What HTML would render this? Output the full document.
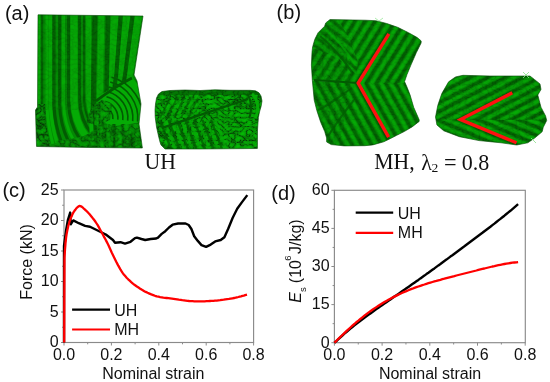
<!DOCTYPE html>
<html><head><meta charset="utf-8"><style>
html,body{margin:0;padding:0;background:#fff;width:550px;height:382px;overflow:hidden}
svg{display:block}
</style></head><body>
<svg width="550" height="382" viewBox="0 0 550 382">
<defs><clipPath id="cA1"><polygon points="38.0,14.8 143.0,16.0 134.0,75.0 137.0,81.0 141.0,104.0 139.0,124.0 142.4,148.0 90.0,147.5 36.5,146.5 35.5,110.0 37.5,107.0"/></clipPath>
<clipPath id="cA2"><polygon points="155.5,104.0 156.5,98.0 158.5,94.0 162.0,91.5 170.0,90.5 185.0,90.0 200.0,90.5 215.0,89.8 230.0,90.3 250.0,90.3 255.5,90.8 259.0,92.8 261.0,96.0 262.0,101.0 261.2,106.0 259.5,112.0 258.4,117.4 257.5,130.0 257.4,148.5 200.0,149.0 165.0,149.0 161.0,145.0 160.0,142.0 158.5,136.0 156.5,127.0 155.2,117.0 155.0,110.0"/></clipPath>
<clipPath id="cB1"><polygon points="330.0,19.6 365.0,20.2 375.9,20.7 386.8,23.5 397.7,27.3 408.6,32.7 417.3,37.6 421.2,40.9 421.1,43.1 416.4,52.6 410.9,65.1 407.0,74.5 404.6,81.6 407.0,87.1 410.1,95.0 413.7,107.3 419.2,119.8 419.2,121.4 412.1,126.9 404.2,131.6 396.4,135.5 390.1,138.7 383.8,141.8 372.8,144.9 365.0,145.7 344.3,145.9 331.2,144.6 326.6,141.9 326.6,138.0 324.7,131.5 320.7,122.3 316.8,110.5 314.2,100.0 312.3,80.0 311.4,65.0 312.0,52.0 312.6,46.9 314.8,39.3 318.1,32.7 324.6,26.2 325.7,22.9"/></clipPath>
<clipPath id="cB2"><polygon points="455.5,76.9 463.0,75.3 490.0,76.0 530.0,76.0 534.4,79.4 540.0,83.9 541.0,89.4 537.8,95.0 541.0,107.2 545.6,116.0 546.7,120.5 543.3,127.2 542.2,131.7 534.4,138.3 527.8,142.8 516.7,145.0 501.0,142.8 490.0,141.7 479.0,140.6 459.4,136.7 443.7,130.8 436.9,124.9 435.5,117.0 437.8,105.3 441.8,93.5 448.6,81.8"/></clipPath>
<filter id="crm" x="0" y="0" width="100%" height="100%" filterUnits="objectBoundingBox" color-interpolation-filters="sRGB">
<feTurbulence type="turbulence" baseFrequency="0.17" numOctaves="2" seed="7" result="n"/>
<feColorMatrix in="n" type="matrix" values="0 0 0 0 0.02  1 0 0 0 0  0 0 0 0 0.02  0 0 0 0 1" result="c0"/>
<feComponentTransfer in="c0" result="c"><feFuncG type="table" tableValues="0.2 0.4 0.53 0.61 0.66 0.7 0.72"/></feComponentTransfer>
<feComposite in="c" in2="SourceAlpha" operator="in"/>
</filter>
<filter id="crm2" x="0" y="0" width="100%" height="100%" filterUnits="objectBoundingBox" color-interpolation-filters="sRGB">
<feTurbulence type="turbulence" baseFrequency="0.15 0.2" numOctaves="2" seed="3" result="n"/>
<feColorMatrix in="n" type="matrix" values="0 0 0 0 0.02  1 0 0 0 0  0 0 0 0 0.02  0 0 0 0 1" result="c0"/>
<feComponentTransfer in="c0" result="c"><feFuncG type="table" tableValues="0.2 0.4 0.53 0.61 0.66 0.7 0.72"/></feComponentTransfer>
<feComposite in="c" in2="SourceAlpha" operator="in"/>
</filter>
<filter id="crm3" x="0" y="0" width="100%" height="100%" filterUnits="objectBoundingBox" color-interpolation-filters="sRGB">
<feTurbulence type="turbulence" baseFrequency="0.17" numOctaves="2" seed="11" result="n"/>
<feColorMatrix in="n" type="matrix" values="0 0 0 0 0.02  1 0 0 0 0  0 0 0 0 0.02  0 0 0 0 1" result="c0"/>
<feComponentTransfer in="c0" result="c"><feFuncG type="table" tableValues="0.2 0.4 0.53 0.61 0.66 0.7 0.72"/></feComponentTransfer>
<feComposite in="c" in2="SourceAlpha" operator="in"/>
</filter>
<filter id="crmA2" x="0" y="0" width="100%" height="100%" filterUnits="objectBoundingBox" color-interpolation-filters="sRGB">
<feTurbulence type="turbulence" baseFrequency="0.17 0.22" numOctaves="2" seed="5" result="n"/>
<feColorMatrix in="n" type="matrix" values="0 0 0 0 0.02  1 0 0 0 0  0 0 0 0 0.02  0 0 0 0 1" result="c0"/>
<feComponentTransfer in="c0" result="c"><feFuncG type="table" tableValues="0.22 0.48 0.61 0.68 0.72 0.75 0.77"/></feComponentTransfer>
<feComposite in="c" in2="SourceAlpha" operator="in"/>
</filter>
<filter id="soft" color-interpolation-filters="sRGB"><feGaussianBlur stdDeviation="0.45"/></filter>
<pattern id="stB1u" patternUnits="userSpaceOnUse" width="8.5" height="8.5" patternTransform="translate(385.3,33.9) rotate(32)"><rect width="8.5" height="8.5" fill="#038803"/><rect x="0" width="3.2" height="8.5" fill="#025a02"/><rect x="4.25" width="3.2" height="8.5" fill="#05ab05"/></pattern>
<pattern id="stB1l" patternUnits="userSpaceOnUse" width="8.5" height="8.5" patternTransform="translate(385,137.2) rotate(-29.3)"><rect width="8.5" height="8.5" fill="#038803"/><rect x="0" width="3.2" height="8.5" fill="#025a02"/><rect x="4.25" width="3.2" height="8.5" fill="#05ab05"/></pattern>
<pattern id="stB1f" patternUnits="userSpaceOnUse" width="7.5" height="7.5" patternTransform="translate(330,40) rotate(-52)"><rect width="7.5" height="7.5" fill="#038803"/><rect x="0" width="2.5" height="7.5" fill="#025a02"/><rect x="3.50" width="3" height="7.5" fill="#05ab05"/></pattern>
<pattern id="stB2u" patternUnits="userSpaceOnUse" width="8" height="8" patternTransform="translate(512.5,90) rotate(62.7)"><rect width="8" height="8" fill="#038803"/><rect x="0" width="3" height="8" fill="#025a02"/><rect x="4.00" width="3" height="8" fill="#05ab05"/></pattern>
<pattern id="stB2l" patternUnits="userSpaceOnUse" width="8" height="8" patternTransform="translate(516,146) rotate(-67.2)"><rect width="8" height="8" fill="#038803"/><rect x="0" width="3" height="8" fill="#025a02"/><rect x="4.00" width="3" height="8" fill="#05ab05"/></pattern></defs>
<rect width="550" height="382" fill="#fff"/>
<g clip-path="url(#cA1)"><g filter="url(#soft)"><rect x="30" y="10" width="120" height="140" fill="#038803"/><path d="M39,12 L39,108.0 C39.5,122.0 42.2,138.0 43.0,146.0" stroke="#05ab05" stroke-width="3.5" fill="none"/><path d="M47,12 L47,106.4 C47.5,120.4 50.7,135.8 52.8,143.8" stroke="#05ab05" stroke-width="3" fill="none"/><path d="M50.5,12 L50.5,105.7 C51.0,119.7 54.5,134.8 57.0,142.8" stroke="#05ab05" stroke-width="3.5" fill="none"/><path d="M63.5,12 L63.5,103.1 C64.0,117.1 68.3,131.1 72.9,139.1" stroke="#05ab05" stroke-width="3" fill="none"/><path d="M74,12 L74,101.0 C74.5,115.0 79.5,128.2 85.7,136.2" stroke="#05ab05" stroke-width="7" fill="none"/><path d="M88.5,12 L88.5,98.1 C89.0,112.1 95.0,124.1 103.4,132.1" stroke="#05ab05" stroke-width="5" fill="none"/><path d="M101.5,12 L100.0,90 L99.5,130" stroke="#05ab05" stroke-width="6" fill="none"/><path d="M115,12 L111.4,76.6 L108.2,103.0" stroke="#05ab05" stroke-width="7" fill="none"/><path d="M127,12 L121.1,71.2 L117.1,99.2" stroke="#05ab05" stroke-width="7" fill="none"/><path d="M139,12 L130.8,65.8 L126.0,95.3" stroke="#05ab05" stroke-width="7" fill="none"/><path d="M42,12 L42,107.4 C42.5,121.4 45.4,137.2 46.7,145.2" stroke="#025a02" stroke-width="2.5" fill="none"/><path d="M54,12 L54,105.0 C54.5,119.0 58.2,133.8 61.3,141.8" stroke="#025a02" stroke-width="3.2" fill="none"/><path d="M59.5,12 L59.5,103.9 C60.0,117.9 64.1,132.3 68.0,140.3" stroke="#025a02" stroke-width="3" fill="none"/><path d="M68.5,12 L68.5,102.1 C69.0,116.1 73.6,129.7 79.0,137.7" stroke="#025a02" stroke-width="3" fill="none"/><path d="M79.5,12 L79.5,99.9 C80.0,113.9 85.4,126.7 92.4,134.7" stroke="#025a02" stroke-width="3" fill="none"/><path d="M84,12 L84,99.0 C84.5,113.0 90.2,125.4 97.9,133.4" stroke="#025a02" stroke-width="2" fill="none"/><path d="M95,12 L93.5,90 L93,130" stroke="#025a02" stroke-width="5" fill="none"/><path d="M108,12 L106.5,90 L106,130" stroke="#025a02" stroke-width="4.5" fill="none"/><path d="M121,12 L116.3,73.9 L112.7,101.1" stroke="#025a02" stroke-width="4" fill="none"/><path d="M133,12 L125.9,68.5 L121.6,97.2" stroke="#025a02" stroke-width="4" fill="none"/><rect x="30" y="10" width="120" height="100" filter="url(#crm2)" opacity="0.18"/><path d="M91,110 L92,150" stroke="#05ab05" stroke-width="4"/><path d="M95,110 L96,150" stroke="#025a02" stroke-width="3"/><path d="M99.5,110 L100.5,150" stroke="#05ab05" stroke-width="5"/><path d="M104,110 L105,150" stroke="#025a02" stroke-width="2.5"/><path d="M109,110 L110,150" stroke="#05ab05" stroke-width="5"/><path d="M113.5,110 L114.5,150" stroke="#025a02" stroke-width="2.5"/><path d="M118,110 L119,150" stroke="#05ab05" stroke-width="4.5"/><path d="M122.5,110 L123.5,150" stroke="#025a02" stroke-width="2.5"/><path d="M127,110 L128,150" stroke="#05ab05" stroke-width="4"/><path d="M131.5,110 L132.5,150" stroke="#025a02" stroke-width="2.5"/><path d="M136,110 L137,150" stroke="#05ab05" stroke-width="4"/><path d="M102,94 L132,77 L142,90 L143,124 L104,124 Z" fill="#05ab05"/><path d="M111.5,77.3 A42,42 0 0 1 142.6,122.2" stroke="#025a02" stroke-width="1.6" fill="none"/><path d="M110.2,82.1 A37,37 0 0 1 137.6,121.7" stroke="#025a02" stroke-width="1.6" fill="none"/><path d="M109.0,87.0 A32,32 0 0 1 132.7,121.2" stroke="#025a02" stroke-width="1.6" fill="none"/><path d="M107.8,91.8 A27,27 0 0 1 127.7,120.7" stroke="#025a02" stroke-width="1.6" fill="none"/><path d="M106.5,96.7 A22,22 0 0 1 122.8,120.2" stroke="#025a02" stroke-width="1.6" fill="none"/><path d="M105.2,101.5 A17,17 0 0 1 117.8,119.7" stroke="#025a02" stroke-width="1.6" fill="none"/><path d="M104.0,106.4 A12,12 0 0 1 112.9,119.2" stroke="#025a02" stroke-width="1.6" fill="none"/><path d="M96,101 C108,92 120,84 132,78" stroke="#025a02" stroke-width="2.8" fill="none"/><polygon points="30,104 45,104 46,124 49,138 53,152 30,152" filter="url(#crm)"/><polygon points="53,152 56,141 70,139 84,136 94,130 100,122 116,126 130,124 145,121 145,152" filter="url(#crm)" opacity="0.7"/><polygon points="86,122 92,106 102,100 112,104 110,120 98,126" filter="url(#crm3)" opacity="0.8"/></g></g>
<g clip-path="url(#cA2)"><g filter="url(#soft)"><rect x="150" y="85" width="115" height="68" filter="url(#crmA2)"/><path d="M160.0,120 L171.0,149" stroke="#025a02" stroke-width="2.3" opacity="0.75"/><path d="M164.2,120 L175.2,149" stroke="#05ab05" stroke-width="2.5" opacity="0.75"/><path d="M168.5,120 L179.5,149" stroke="#025a02" stroke-width="2.3" opacity="0.75"/><path d="M172.7,120 L183.7,149" stroke="#05ab05" stroke-width="2.5" opacity="0.75"/><path d="M177.0,120 L188.0,149" stroke="#025a02" stroke-width="2.3" opacity="0.75"/><path d="M181.2,120 L192.2,149" stroke="#05ab05" stroke-width="2.5" opacity="0.75"/><path d="M185.5,120 L196.5,149" stroke="#025a02" stroke-width="2.3" opacity="0.75"/><path d="M189.7,120 L200.7,149" stroke="#05ab05" stroke-width="2.5" opacity="0.75"/><path d="M194.0,120 L205.0,149" stroke="#025a02" stroke-width="2.3" opacity="0.75"/><path d="M198.2,120 L209.2,149" stroke="#05ab05" stroke-width="2.5" opacity="0.75"/><path d="M202.5,120 L213.5,149" stroke="#025a02" stroke-width="2.3" opacity="0.75"/><path d="M206.7,120 L217.7,149" stroke="#05ab05" stroke-width="2.5" opacity="0.75"/><path d="M211.0,120 L222.0,149" stroke="#025a02" stroke-width="2.3" opacity="0.75"/><path d="M215.2,120 L226.2,149" stroke="#05ab05" stroke-width="2.5" opacity="0.75"/><path d="M160,118 L170,98" stroke="#025a02" stroke-width="1.8" opacity="0.6"/><path d="M163.5,118 L173.5,98" stroke="#05ab05" stroke-width="2" opacity="0.6"/><path d="M167,118 L177,98" stroke="#025a02" stroke-width="1.8" opacity="0.6"/><path d="M170.5,118 L180.5,98" stroke="#05ab05" stroke-width="2" opacity="0.6"/><path d="M174,118 L184,98" stroke="#025a02" stroke-width="1.8" opacity="0.6"/><path d="M177.5,118 L187.5,98" stroke="#05ab05" stroke-width="2" opacity="0.6"/><path d="M181,118 L191,98" stroke="#025a02" stroke-width="1.8" opacity="0.6"/><path d="M184.5,118 L194.5,98" stroke="#05ab05" stroke-width="2" opacity="0.6"/><path d="M188,118 L198,98" stroke="#025a02" stroke-width="1.8" opacity="0.6"/><path d="M191.5,118 L201.5,98" stroke="#05ab05" stroke-width="2" opacity="0.6"/><path d="M162,128 C190,118 215,110 248,99" stroke="#025a02" stroke-width="2.2" fill="none"/><path d="M155,92.5 L262,92.5" stroke="#035a03" stroke-width="5" opacity="0.6"/><path d="M252,94 C259,100 259,112 255,118" stroke="#05ab05" stroke-width="3" fill="none"/><path d="M247,94 C252,100 252,112 249,118" stroke="#025a02" stroke-width="2" fill="none"/></g></g>
<g clip-path="url(#cB1)"><g filter="url(#soft)"><polygon points="300,10 430,10 430,83 358.2,83 300,80" fill="url(#stB1u)"/><polygon points="300,80 358.2,83 430,83 430,150 300,150" fill="url(#stB1l)"/><polygon points="308,16 336,16 348,36 358,62 356,74 338,58 318,50 308,46" fill="url(#stB1f)" opacity="0.8"/><rect x="300" y="10" width="130" height="140" filter="url(#crm2)" opacity="0.2"/><polygon points="305,15 335,15 350,60 348,100 338,150 305,150" filter="url(#crm3)" opacity="0.25"/><path d="M314,80 L358,83" stroke="#025a02" stroke-width="2" fill="none"/><path d="M320,36 C330,44 340,55 352,72" stroke="#025a02" stroke-width="2.2" fill="none" opacity="0.8"/><path d="M326,30 C336,38 346,50 356,66" stroke="#05ab05" stroke-width="2" fill="none" opacity="0.6"/><path d="M318,110 C328,106 340,96 352,88" stroke="#025a02" stroke-width="2" fill="none" opacity="0.7"/><path d="M328,136 C336,124 344,112 354,100" stroke="#025a02" stroke-width="2" fill="none" opacity="0.7"/></g></g>
<g clip-path="url(#cB2)"><g filter="url(#soft)"><rect x="430" y="70" width="120" height="80" fill="url(#stB2u)"/><polygon points="430,119.7 550,119.7 550,150 430,150" fill="url(#stB2l)"/><rect x="430" y="70" width="120" height="80" filter="url(#crm2)" opacity="0.3"/></g></g>
<polygon points="38.0,14.8 143.0,16.0 134.0,75.0 137.0,81.0 141.0,104.0 139.0,124.0 142.4,148.0 90.0,147.5 36.5,146.5 35.5,110.0 37.5,107.0" fill="none" stroke="#024602" stroke-width="1" opacity="0.6" filter="url(#soft)"/>
<polygon points="155.5,104.0 156.5,98.0 158.5,94.0 162.0,91.5 170.0,90.5 185.0,90.0 200.0,90.5 215.0,89.8 230.0,90.3 250.0,90.3 255.5,90.8 259.0,92.8 261.0,96.0 262.0,101.0 261.2,106.0 259.5,112.0 258.4,117.4 257.5,130.0 257.4,148.5 200.0,149.0 165.0,149.0 161.0,145.0 160.0,142.0 158.5,136.0 156.5,127.0 155.2,117.0 155.0,110.0" fill="none" stroke="#024602" stroke-width="1" opacity="0.6" filter="url(#soft)"/>
<polygon points="330.0,19.6 365.0,20.2 375.9,20.7 386.8,23.5 397.7,27.3 408.6,32.7 417.3,37.6 421.2,40.9 421.1,43.1 416.4,52.6 410.9,65.1 407.0,74.5 404.6,81.6 407.0,87.1 410.1,95.0 413.7,107.3 419.2,119.8 419.2,121.4 412.1,126.9 404.2,131.6 396.4,135.5 390.1,138.7 383.8,141.8 372.8,144.9 365.0,145.7 344.3,145.9 331.2,144.6 326.6,141.9 326.6,138.0 324.7,131.5 320.7,122.3 316.8,110.5 314.2,100.0 312.3,80.0 311.4,65.0 312.0,52.0 312.6,46.9 314.8,39.3 318.1,32.7 324.6,26.2 325.7,22.9" fill="none" stroke="#024602" stroke-width="1" opacity="0.6" filter="url(#soft)"/>
<polygon points="455.5,76.9 463.0,75.3 490.0,76.0 530.0,76.0 534.4,79.4 540.0,83.9 541.0,89.4 537.8,95.0 541.0,107.2 545.6,116.0 546.7,120.5 543.3,127.2 542.2,131.7 534.4,138.3 527.8,142.8 516.7,145.0 501.0,142.8 490.0,141.7 479.0,140.6 459.4,136.7 443.7,130.8 436.9,124.9 435.5,117.0 437.8,105.3 441.8,93.5 448.6,81.8" fill="none" stroke="#024602" stroke-width="1" opacity="0.6" filter="url(#soft)"/>
<polyline points="388.9,33.9 358.2,83 388.6,137.2" fill="none" stroke="#ff1010" stroke-width="3.4"/>
<polyline points="512.3,92.8 460.5,119.5 516.5,142.8" fill="none" stroke="#ff1010" stroke-width="3.4"/>
<path d="M523,72 L529,78 M529,72 L523,78" stroke="#8ae08a" stroke-width="0.8"/>
<path d="M531,138 L536,143" stroke="#8ae08a" stroke-width="0.8"/>
<path d="M375,18 L379,21 L383,18" stroke="#9be89b" stroke-width="0.8" fill="none"/>
<rect x="64" y="190" width="189.6" height="152.5" fill="none" stroke="#8a8a8a" stroke-width="1.15"/>
<line x1="64.0" y1="342.5" x2="64.0" y2="345.5" stroke="#8a8a8a" stroke-width="1"/>
<line x1="87.7" y1="342.5" x2="87.7" y2="344.3" stroke="#8a8a8a" stroke-width="1"/>
<line x1="111.4" y1="342.5" x2="111.4" y2="345.5" stroke="#8a8a8a" stroke-width="1"/>
<line x1="135.10000000000002" y1="342.5" x2="135.10000000000002" y2="344.3" stroke="#8a8a8a" stroke-width="1"/>
<line x1="158.8" y1="342.5" x2="158.8" y2="345.5" stroke="#8a8a8a" stroke-width="1"/>
<line x1="182.5" y1="342.5" x2="182.5" y2="344.3" stroke="#8a8a8a" stroke-width="1"/>
<line x1="206.20000000000002" y1="342.5" x2="206.20000000000002" y2="345.5" stroke="#8a8a8a" stroke-width="1"/>
<line x1="229.90000000000003" y1="342.5" x2="229.90000000000003" y2="344.3" stroke="#8a8a8a" stroke-width="1"/>
<line x1="253.60000000000002" y1="342.5" x2="253.60000000000002" y2="345.5" stroke="#8a8a8a" stroke-width="1"/>
<line x1="61" y1="342.5" x2="64" y2="342.5" stroke="#8a8a8a" stroke-width="1"/>
<line x1="62.2" y1="327.25" x2="64" y2="327.25" stroke="#8a8a8a" stroke-width="1"/>
<line x1="61" y1="312.0" x2="64" y2="312.0" stroke="#8a8a8a" stroke-width="1"/>
<line x1="62.2" y1="296.75" x2="64" y2="296.75" stroke="#8a8a8a" stroke-width="1"/>
<line x1="61" y1="281.5" x2="64" y2="281.5" stroke="#8a8a8a" stroke-width="1"/>
<line x1="62.2" y1="266.25" x2="64" y2="266.25" stroke="#8a8a8a" stroke-width="1"/>
<line x1="61" y1="251.0" x2="64" y2="251.0" stroke="#8a8a8a" stroke-width="1"/>
<line x1="62.2" y1="235.75" x2="64" y2="235.75" stroke="#8a8a8a" stroke-width="1"/>
<line x1="61" y1="220.5" x2="64" y2="220.5" stroke="#8a8a8a" stroke-width="1"/>
<line x1="62.2" y1="205.25" x2="64" y2="205.25" stroke="#8a8a8a" stroke-width="1"/>
<line x1="61" y1="190.0" x2="64" y2="190.0" stroke="#8a8a8a" stroke-width="1"/>
<rect x="334.4" y="190.3" width="190.89999999999998" height="152.39999999999998" fill="none" stroke="#8a8a8a" stroke-width="1.15"/>
<line x1="334.4" y1="342.7" x2="334.4" y2="345.7" stroke="#8a8a8a" stroke-width="1"/>
<line x1="358.25" y1="342.7" x2="358.25" y2="344.5" stroke="#8a8a8a" stroke-width="1"/>
<line x1="382.09999999999997" y1="342.7" x2="382.09999999999997" y2="345.7" stroke="#8a8a8a" stroke-width="1"/>
<line x1="405.94999999999993" y1="342.7" x2="405.94999999999993" y2="344.5" stroke="#8a8a8a" stroke-width="1"/>
<line x1="429.79999999999995" y1="342.7" x2="429.79999999999995" y2="345.7" stroke="#8a8a8a" stroke-width="1"/>
<line x1="453.65" y1="342.7" x2="453.65" y2="344.5" stroke="#8a8a8a" stroke-width="1"/>
<line x1="477.5" y1="342.7" x2="477.5" y2="345.7" stroke="#8a8a8a" stroke-width="1"/>
<line x1="501.35" y1="342.7" x2="501.35" y2="344.5" stroke="#8a8a8a" stroke-width="1"/>
<line x1="525.2" y1="342.7" x2="525.2" y2="345.7" stroke="#8a8a8a" stroke-width="1"/>
<line x1="331.4" y1="342.7" x2="334.4" y2="342.7" stroke="#8a8a8a" stroke-width="1"/>
<line x1="332.59999999999997" y1="323.65" x2="334.4" y2="323.65" stroke="#8a8a8a" stroke-width="1"/>
<line x1="331.4" y1="304.59999999999997" x2="334.4" y2="304.59999999999997" stroke="#8a8a8a" stroke-width="1"/>
<line x1="332.59999999999997" y1="285.54999999999995" x2="334.4" y2="285.54999999999995" stroke="#8a8a8a" stroke-width="1"/>
<line x1="331.4" y1="266.5" x2="334.4" y2="266.5" stroke="#8a8a8a" stroke-width="1"/>
<line x1="332.59999999999997" y1="247.45" x2="334.4" y2="247.45" stroke="#8a8a8a" stroke-width="1"/>
<line x1="331.4" y1="228.39999999999998" x2="334.4" y2="228.39999999999998" stroke="#8a8a8a" stroke-width="1"/>
<line x1="332.59999999999997" y1="209.34999999999997" x2="334.4" y2="209.34999999999997" stroke="#8a8a8a" stroke-width="1"/>
<line x1="331.4" y1="190.29999999999998" x2="334.4" y2="190.29999999999998" stroke="#8a8a8a" stroke-width="1"/>
<text x="58.6" y="347.3" text-anchor="end" font-family="Liberation Sans, Arial, sans-serif" font-size="16" fill="#111">0</text>
<text x="58.6" y="316.8" text-anchor="end" font-family="Liberation Sans, Arial, sans-serif" font-size="16" fill="#111">5</text>
<text x="58.6" y="286.3" text-anchor="end" font-family="Liberation Sans, Arial, sans-serif" font-size="16" fill="#111">10</text>
<text x="58.6" y="255.8" text-anchor="end" font-family="Liberation Sans, Arial, sans-serif" font-size="16" fill="#111">15</text>
<text x="58.6" y="225.3" text-anchor="end" font-family="Liberation Sans, Arial, sans-serif" font-size="16" fill="#111">20</text>
<text x="58.6" y="194.8" text-anchor="end" font-family="Liberation Sans, Arial, sans-serif" font-size="16" fill="#111">25</text>
<text x="64.0" y="360.3" text-anchor="middle" font-family="Liberation Sans, Arial, sans-serif" font-size="16" fill="#111">0.0</text>
<text x="111.4" y="360.3" text-anchor="middle" font-family="Liberation Sans, Arial, sans-serif" font-size="16" fill="#111">0.2</text>
<text x="158.8" y="360.3" text-anchor="middle" font-family="Liberation Sans, Arial, sans-serif" font-size="16" fill="#111">0.4</text>
<text x="206.2" y="360.3" text-anchor="middle" font-family="Liberation Sans, Arial, sans-serif" font-size="16" fill="#111">0.6</text>
<text x="253.6" y="360.3" text-anchor="middle" font-family="Liberation Sans, Arial, sans-serif" font-size="16" fill="#111">0.8</text>
<text x="329.6" y="347.5" text-anchor="end" font-family="Liberation Sans, Arial, sans-serif" font-size="16" fill="#111">0</text>
<text x="329.6" y="309.4" text-anchor="end" font-family="Liberation Sans, Arial, sans-serif" font-size="16" fill="#111">15</text>
<text x="329.6" y="271.3" text-anchor="end" font-family="Liberation Sans, Arial, sans-serif" font-size="16" fill="#111">30</text>
<text x="329.6" y="233.2" text-anchor="end" font-family="Liberation Sans, Arial, sans-serif" font-size="16" fill="#111">45</text>
<text x="329.6" y="195.1" text-anchor="end" font-family="Liberation Sans, Arial, sans-serif" font-size="16" fill="#111">60</text>
<text x="334.4" y="360.3" text-anchor="middle" font-family="Liberation Sans, Arial, sans-serif" font-size="16" fill="#111">0.0</text>
<text x="382.1" y="360.3" text-anchor="middle" font-family="Liberation Sans, Arial, sans-serif" font-size="16" fill="#111">0.2</text>
<text x="429.8" y="360.3" text-anchor="middle" font-family="Liberation Sans, Arial, sans-serif" font-size="16" fill="#111">0.4</text>
<text x="477.5" y="360.3" text-anchor="middle" font-family="Liberation Sans, Arial, sans-serif" font-size="16" fill="#111">0.6</text>
<text x="525.2" y="360.3" text-anchor="middle" font-family="Liberation Sans, Arial, sans-serif" font-size="16" fill="#111">0.8</text>
<text x="102.2" y="378.8" font-family="Liberation Sans, Arial, sans-serif" font-size="16" fill="#111">Nominal strain</text>
<text x="378.9" y="378.8" font-family="Liberation Sans, Arial, sans-serif" font-size="16" fill="#111">Nominal strain</text>
<text transform="translate(31.8,262) rotate(-90)" text-anchor="middle" font-family="Liberation Sans, Arial, sans-serif" font-size="16" fill="#111">Force (kN)</text>
<text transform="translate(301.4,302.2) rotate(-90)" font-family="Liberation Sans, Arial, sans-serif" font-size="16" fill="#111"><tspan x="-0.6" font-style="italic">E</tspan><tspan x="10.2" y="4.6" font-size="9.5">s</tspan><tspan x="19" y="0">(10</tspan><tspan x="41.4" y="-10.4" font-size="9.5">6</tspan><tspan x="48.2" y="0">J/kg)</tspan></text>
<line x1="72.1" y1="309.7" x2="110" y2="309.7" stroke="#000" stroke-width="2.2"/>
<line x1="72.1" y1="329.5" x2="110" y2="329.5" stroke="#f00" stroke-width="2.2"/>
<text x="114.2" y="315.6" font-family="Liberation Sans, Arial, sans-serif" font-size="16" fill="#111">UH</text>
<text x="114.2" y="335" font-family="Liberation Sans, Arial, sans-serif" font-size="16" fill="#111">MH</text>
<line x1="355.7" y1="212.7" x2="393.2" y2="212.7" stroke="#000" stroke-width="2.2"/>
<line x1="355.7" y1="232.9" x2="393.2" y2="232.9" stroke="#f00" stroke-width="2.2"/>
<text x="397.8" y="218.6" font-family="Liberation Sans, Arial, sans-serif" font-size="16" fill="#111">UH</text>
<text x="397.8" y="238.1" font-family="Liberation Sans, Arial, sans-serif" font-size="16" fill="#111">MH</text>
<polyline points="64.0,342.5 64.0,246.0 66.3,229.0 67.8,220.4 70.2,212.6 70.7,224.3 73.3,220.4 78.8,223.2 85.1,225.9 90.0,226.7 96.6,230.0 105.8,234.5 113.0,240.0 115.0,242.7 120.5,242.2 125.0,243.6 130.5,241.8 135.0,238.1 136.9,237.6 141.5,239.0 145.2,240.0 150.7,239.0 156.2,238.5 158.0,237.6 161.7,233.9 165.3,231.2 169.0,227.5 172.6,224.7 178.1,223.5 185.5,223.5 188.7,225.0 191.4,229.0 194.2,236.3 197.8,240.9 201.5,245.1 206.1,246.9 210.7,244.6 215.2,241.4 220.7,240.0 224.4,237.2 228.1,229.0 232.6,218.0 237.2,208.8 241.8,202.4 247.3,195.1" fill="none" stroke="#000" stroke-width="2.4" stroke-linejoin="round"/>
<polyline points="64.2,342.5 64.3,300.0 64.5,258.0 64.6,255.9 64.8,252.9 65.0,249.4 65.3,246.0 65.5,243.0 65.8,240.5 66.0,238.3 66.3,236.1 66.6,234.1 67.0,232.0 67.4,229.9 67.9,227.8 68.3,225.8 68.9,223.9 69.4,222.0 70.0,220.2 70.6,218.5 71.3,216.9 72.0,215.4 72.6,214.0 73.2,212.8 73.9,211.7 74.5,210.8 75.1,210.0 75.7,209.2 76.2,208.5 76.7,208.0 77.2,207.5 77.6,207.1 78.0,206.8 78.4,206.5 78.7,206.3 79.0,206.1 79.3,206.0 79.6,206.0 80.0,206.0 80.3,206.1 80.7,206.2 81.1,206.4 81.5,206.6 81.9,206.8 82.2,207.1 82.6,207.4 83.0,207.8 83.5,208.3 84.2,208.9 85.0,209.6 85.8,210.4 86.7,211.2 87.5,212.0 88.2,212.8 88.9,213.5 89.6,214.3 90.4,215.2 91.2,216.2 92.2,217.4 93.2,218.8 94.4,220.3 95.5,221.8 96.6,223.5 97.7,225.2 98.8,227.1 99.8,229.0 100.9,231.0 102.0,233.0 103.1,235.0 104.2,237.1 105.4,239.3 106.5,241.4 107.6,243.6 108.7,245.8 109.7,248.0 110.7,250.2 111.7,252.5 112.8,254.7 113.9,256.9 115.0,259.2 116.1,261.5 117.2,263.6 118.3,265.7 119.4,267.6 120.4,269.4 121.5,271.2 122.6,272.9 123.8,274.5 125.2,276.1 126.6,277.7 128.2,279.3 129.7,280.7 131.2,282.1 132.6,283.3 134.0,284.5 135.5,285.5 136.9,286.6 138.5,287.6 140.2,288.7 142.0,289.8 143.9,290.9 145.7,291.9 147.6,292.8 149.4,293.6 151.3,294.4 153.2,295.1 155.0,295.8 156.8,296.3 158.5,296.7 160.1,297.1 161.7,297.3 163.4,297.6 165.0,297.8 166.7,298.0 168.4,298.2 170.1,298.4 171.9,298.6 173.6,298.8 175.3,299.1 177.1,299.4 178.8,299.7 180.6,299.9 182.3,300.2 184.0,300.4 185.7,300.6 187.5,300.8 189.2,301.0 190.9,301.1 192.6,301.2 194.3,301.3 196.1,301.4 197.8,301.4 199.5,301.4 201.2,301.4 203.0,301.3 204.7,301.3 206.5,301.2 208.2,301.1 209.9,301.0 211.6,300.9 213.4,300.9 215.1,300.7 216.8,300.6 218.5,300.4 220.2,300.2 222.0,299.9 223.7,299.7 225.4,299.4 227.2,299.1 229.0,298.9 230.7,298.6 232.5,298.3 234.1,298.0 235.6,297.7 237.0,297.3 238.4,297.0 239.7,296.6 241.0,296.3 242.4,295.9 243.8,295.6 245.1,295.2 246.2,294.9 247.0,294.7" fill="none" stroke="#f00" stroke-width="2.3" stroke-linejoin="round"/>
<polyline points="334.4,342.7 336.4,341.1 338.4,339.2 340.4,337.3 342.4,335.5 344.4,333.7 346.4,332.0 348.4,330.3 350.4,328.6 352.4,327.0 354.4,325.4 356.4,323.8 358.4,322.3 360.4,320.7 362.4,319.2 364.4,317.7 366.4,316.3 368.4,314.8 370.4,313.4 372.4,312.0 374.4,310.5 376.4,309.1 378.4,307.7 380.4,306.3 382.4,304.9 384.4,303.6 386.4,302.2 388.4,300.8 390.4,299.4 392.4,298.0 394.4,296.6 396.4,295.3 398.4,293.9 400.4,292.5 402.4,291.1 404.4,289.7 406.4,288.3 408.4,286.9 410.4,285.5 412.4,284.1 414.4,282.7 416.4,281.3 418.4,279.9 420.4,278.4 422.4,277.0 424.4,275.6 426.4,274.1 428.4,272.7 430.4,271.2 432.4,269.8 434.4,268.4 436.4,266.9 438.4,265.4 440.4,264.0 442.4,262.5 444.4,261.0 446.4,259.6 448.4,258.1 450.4,256.6 452.4,255.2 454.4,253.7 456.4,252.2 458.4,250.7 460.4,249.2 462.4,247.7 464.4,246.3 466.4,244.8 468.4,243.3 470.4,241.8 472.4,240.3 474.4,238.8 476.4,237.3 478.4,235.8 480.4,234.3 482.4,232.8 484.4,231.2 486.4,229.7 488.4,228.2 490.4,226.7 492.4,225.1 494.4,223.6 496.4,222.0 498.4,220.4 500.4,218.9 502.4,217.3 504.4,215.7 506.4,214.0 508.4,212.4 510.4,210.8 512.4,209.1 514.4,207.4 516.4,205.7 518.1,204.2" fill="none" stroke="#000" stroke-width="2.4" stroke-linejoin="round"/>
<polyline points="334.4,342.7 336.4,340.8 338.4,338.8 340.4,336.9 342.4,335.0 344.4,333.1 346.4,331.2 348.4,329.3 350.4,327.5 352.4,325.7 354.4,324.0 356.4,322.2 358.4,320.6 360.4,318.9 362.4,317.3 364.4,315.7 366.4,314.2 368.4,312.7 370.4,311.2 372.4,309.8 374.4,308.4 376.4,307.1 378.4,305.8 380.4,304.5 382.4,303.3 384.4,302.1 386.4,300.9 388.4,299.8 390.4,298.7 392.4,297.6 394.4,296.6 396.4,295.6 398.4,294.6 400.4,293.7 402.4,292.8 404.4,291.9 406.4,291.1 408.4,290.2 410.4,289.4 412.4,288.7 414.4,287.9 416.4,287.2 418.4,286.5 420.4,285.8 422.4,285.1 424.4,284.5 426.4,283.8 428.4,283.2 430.4,282.6 432.4,282.0 434.4,281.4 436.4,280.9 438.4,280.3 440.4,279.8 442.4,279.2 444.4,278.7 446.4,278.1 448.4,277.6 450.4,277.1 452.4,276.6 454.4,276.1 456.4,275.5 458.4,275.0 460.4,274.5 462.4,274.0 464.4,273.5 466.4,273.0 468.4,272.5 470.4,272.0 472.4,271.5 474.4,271.0 476.4,270.5 478.4,269.9 480.4,269.4 482.4,268.9 484.4,268.5 486.4,268.0 488.4,267.5 490.4,267.0 492.4,266.5 494.4,266.1 496.4,265.6 498.4,265.2 500.4,264.8 502.4,264.4 504.4,264.0 506.4,263.6 508.4,263.3 510.4,263.0 512.4,262.7 514.4,262.5 516.4,262.3 518.1,262.1" fill="none" stroke="#f00" stroke-width="2.3" stroke-linejoin="round"/>
<text x="4.9" y="19.8" font-family="Liberation Sans, Arial, sans-serif" font-size="20" fill="#111">(a)</text>
<text x="276.6" y="19.4" font-family="Liberation Sans, Arial, sans-serif" font-size="20" fill="#111">(b)</text>
<text x="2.4" y="197" font-family="Liberation Sans, Arial, sans-serif" font-size="20" fill="#111">(c)</text>
<text x="271.3" y="200" font-family="Liberation Sans, Arial, sans-serif" font-size="20" fill="#111">(d)</text>
<text x="144.6" y="169.3" font-family="Liberation Serif, Times New Roman, serif" font-size="24" fill="#111" textLength="31.4" lengthAdjust="spacingAndGlyphs">UH</text>
<text x="374.3" y="169.4" font-family="Liberation Serif, Times New Roman, serif" font-size="24" fill="#111" textLength="40.4" lengthAdjust="spacingAndGlyphs">MH,</text>
<text x="421.3" y="169.6" font-family="Liberation Serif, Times New Roman, serif" font-size="24" fill="#111" textLength="10.6" lengthAdjust="spacingAndGlyphs">λ</text>
<text x="431.6" y="172.3" font-family="Liberation Serif, Times New Roman, serif" font-size="12" fill="#111" textLength="6.8" lengthAdjust="spacingAndGlyphs">2</text>
<text x="444" y="169.6" font-family="Liberation Serif, Times New Roman, serif" font-size="24" fill="#111" textLength="12.6" lengthAdjust="spacingAndGlyphs">=</text>
<text x="461.8" y="169.6" font-family="Liberation Serif, Times New Roman, serif" font-size="24" fill="#111" textLength="27.5" lengthAdjust="spacingAndGlyphs">0.8</text>
</svg>
</body></html>
